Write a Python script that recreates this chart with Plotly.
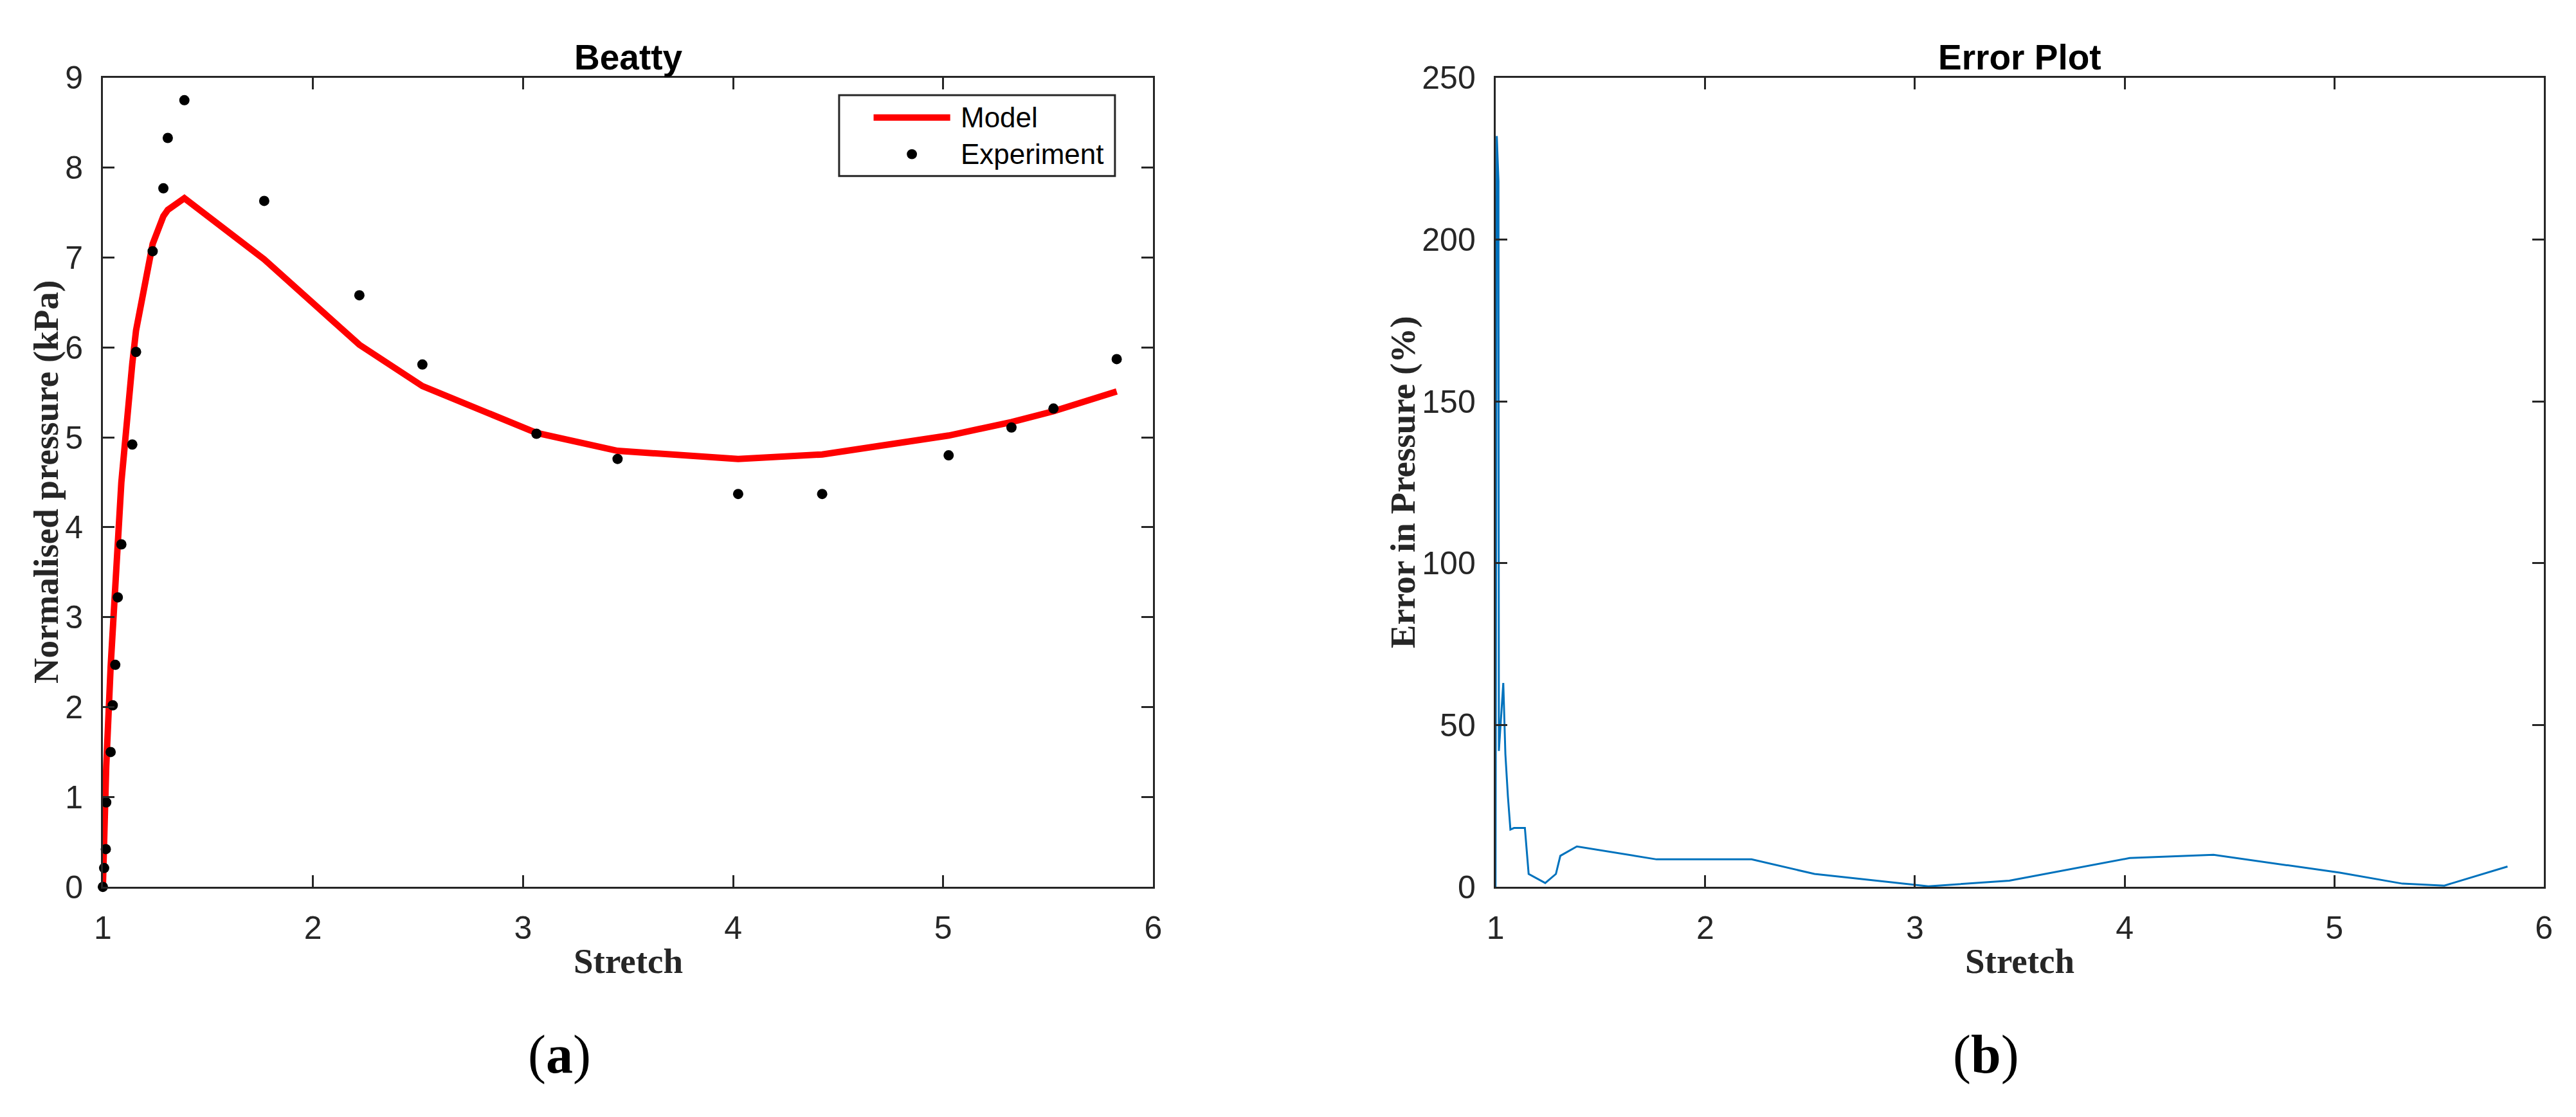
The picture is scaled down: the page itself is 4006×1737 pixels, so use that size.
import plotly.graph_objects as go

# experiment data (stretch, kPa)
stretch = [1.000, 1.006, 1.014, 1.016, 1.037, 1.047, 1.059, 1.071, 1.088, 1.140,
           1.158, 1.237, 1.288, 1.309, 1.388, 1.768, 2.221, 2.521, 3.064, 3.450,
           4.024, 4.424, 5.026, 5.325, 5.525, 5.826]
exp_pressure = [0.00, 0.21, 0.42, 0.94, 1.50, 2.02, 2.47, 3.22, 3.81, 4.92,
                5.95, 7.07, 7.77, 8.33, 8.75, 7.63, 6.58, 5.81, 5.04, 4.76,
                4.37, 4.37, 4.80, 5.11, 5.32, 5.87]
# Beatty model at the same stretches
model_pressure = [0.00, 0.70, 1.33, 1.34, 2.45, 2.85, 3.16, 3.79, 4.50, 5.82,
                  6.19, 7.15, 7.46, 7.53, 7.66, 6.98, 6.03, 5.57, 5.05, 4.85,
                  4.76, 4.81, 5.02, 5.17, 5.29, 5.51]
# error in pressure (%), right panel
error_pct = [0, 232, 218, 42, 63, 41, 28, 17.7, 18.2, 18.2,
             4.0, 1.2, 4.0, 9.6, 12.5, 8.5, 8.5, 4.0, 0.2, 1.9,
             8.9, 9.9, 4.4, 1.0, 0.4, 6.3]

W, H = 4006, 1737


def px(x):
    return x / W


def py(y):
    return 1 - y / H


AX = "#262626"
tickfont = dict(family="Liberation Sans, Arial", size=50, color=AX)
labfont = dict(family="Liberation Serif, Times New Roman", size=55, color=AX, weight="bold")

fig = go.Figure()
fig.add_trace(go.Scatter(x=stretch, y=model_pressure, mode="lines", name="Model",
                         line=dict(color="#ff0000", width=10), xaxis="x", yaxis="y"))
fig.add_trace(go.Scatter(x=stretch, y=exp_pressure, mode="markers", name="Experiment",
                         marker=dict(color="black", size=16), cliponaxis=False,
                         xaxis="x", yaxis="y"))
fig.add_trace(go.Scatter(x=stretch, y=error_pct, mode="lines", name="Error",
                         line=dict(color="#0072bd", width=3), xaxis="x2", yaxis="y2"))

axis_style = dict(showline=True, linecolor=AX, linewidth=3, mirror="ticks",
                  ticks="inside", ticklen=18, tickwidth=3, tickcolor=AX,
                  showgrid=False, zeroline=False, tickfont=tickfont,
                  ticklabelstandoff=18)

fig.update_layout(
    width=W, height=H, margin=dict(l=0, r=0, t=0, b=0),
    paper_bgcolor="white", plot_bgcolor="white", showlegend=False,
    xaxis=dict(domain=[px(147), px(1792)], range=[1, 6], dtick=1, anchor="y", **axis_style),
    yaxis=dict(domain=[py(1397), py(96)], range=[0, 9], dtick=1, anchor="x", **axis_style),
    xaxis2=dict(domain=[px(2328), px(3970)], range=[1, 6], dtick=1, anchor="y2", **axis_style),
    yaxis2=dict(domain=[py(1397), py(96)], range=[0, 250], dtick=50, anchor="x2", **axis_style),
)

ann = []
P = dict(xref="paper", yref="paper", showarrow=False)
# panel titles
for xc, txt in [(970, "Beatty"), (3149, "Error Plot")]:
    ann.append(dict(x=px(xc), y=py(63), text=txt, xanchor="center", yanchor="middle",
                    font=dict(family="Liberation Sans, Arial", size=55, color="black", weight="bold"), **P))
# axis titles
for xc in [970, 3149]:
    ann.append(dict(x=px(xc), y=py(1516), text="Stretch",
                    xanchor="center", yanchor="middle", font=labfont, **P))
ann.append(dict(x=px(58), y=py(746), text="Normalised pressure (kPa)", textangle=-90,
                xanchor="center", yanchor="middle", font=labfont, **P))
ann.append(dict(x=px(2183), y=py(746), text="Error in Pressure (%)", textangle=-90,
                xanchor="center", yanchor="middle", font=labfont, **P))
# sub-figure labels
for xc, letter in [(862, "a"), (3096, "b")]:
    ann.append(dict(x=px(xc), y=py(1667), text="(<b>%s</b>)" % letter,
                    xanchor="center", yanchor="middle",
                    font=dict(family="Liberation Serif, Times New Roman", size=84, color="black"), **P))
# legend text
for yc, txt in [(160, "Model"), (219, "Experiment")]:
    ann.append(dict(x=px(1488), y=py(yc), text=txt, xanchor="left", yanchor="middle",
                    font=dict(family="Liberation Sans, Arial", size=44, color="black"), **P))
fig.update_layout(annotations=ann)

# hand-drawn legend box (MATLAB style, long line sample)
shapes = [
    dict(type="rect", xref="paper", yref="paper", x0=px(1300), x1=px(1732), y0=py(254), y1=py(124),
         line=dict(color=AX, width=3), fillcolor="white", layer="above"),
    dict(type="line", xref="paper", yref="paper", x0=px(1354), x1=px(1474), y0=py(160), y1=py(160),
         line=dict(color="#ff0000", width=10), layer="above"),
    dict(type="circle", xref="paper", yref="paper", x0=px(1406), x1=px(1422), y0=py(227), y1=py(211),
         line=dict(color="black", width=0), fillcolor="black", layer="above"),
]
fig.update_layout(shapes=shapes)

fig.write_html("out.html", config={"displayModeBar": False},
               post_script="document.body.style.margin='0px';")
